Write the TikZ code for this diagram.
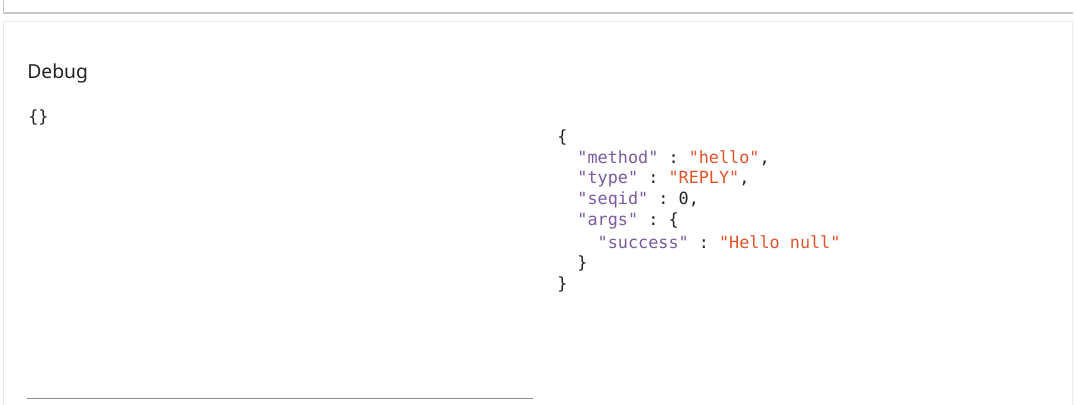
\documentclass[tikz,border=0pt]{standalone}
\usepackage{fontspec}
\setmainfont{Noto Sans}
\setmonofont{DejaVu Sans Mono}
\definecolor{key}{HTML}{7B5A9E}
\definecolor{str}{HTML}{E0542C}
\definecolor{txt}{HTML}{222222}
\begin{document}
\begin{tikzpicture}[x=0.75pt,y=-0.75pt,
  code/.style={anchor=west,inner sep=0pt,font=\ttfamily\fontsize{12.6}{14}\selectfont,text=txt}]
\useasboundingbox (0,0) rectangle (1076,404);
\fill[white] (0,0) rectangle (1076,404);
\fill[black!22] (3,-5) rectangle (1073,13.5);
\fill[white] (3.5,-5) rectangle (1072.5,12);
\fill[black!8] (3,21) rectangle (1073,410);
\fill[white] (4,22) rectangle (1072,410);
\node[anchor=west,inner sep=0pt,font=\fontsize{14.5}{16}\selectfont,text=txt] (title) at (27,73) {Debug};
\node[code] (empty) at (28,117) {\{\}};
\node[code] (l1) at (557,137) {\{};
\node[code] (l2) at (557,158) {\ \ \textcolor{key}{"method"} : \textcolor{str}{"hello"},};
\node[code] (l3) at (557,179) {\ \ \textcolor{key}{"type"} : \textcolor{str}{"REPLY"},};
\node[code] (l4) at (557,200) {\ \ \textcolor{key}{"seqid"} : 0,};
\node[code] (l5) at (557,221) {\ \ \textcolor{key}{"args"} : \{};
\node[code] (l6) at (557,242) {\ \ \ \ \textcolor{key}{"success"} : \textcolor{str}{"Hello null"}};
\node[code] (l7) at (557,263) {\ \ \}};
\node[code] (l8) at (557,284) {\}};
\draw[black!45,line width=0.75pt] (27,398) -- (533,398);
\end{tikzpicture}
\end{document}
